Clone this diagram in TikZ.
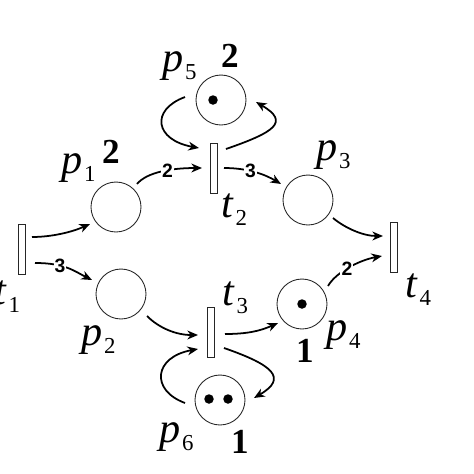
\documentclass[tikz,border=0pt]{standalone}
\usepackage{fontspec}
\setmainfont{Liberation Serif}
\newfontfamily\arcfont{Liberation Sans}
\newfontfamily\numfont{Liberation Serif}
\usetikzlibrary{arrows.meta}
\newcommand\plab[2]{\fontsize{24}{24}\selectfont\textit{#1}\kern1pt\raisebox{-5pt}{\fontsize{13}{13}\selectfont #2}}
\begin{document}
\begin{tikzpicture}[x=0.02cm,y=-0.02cm,
  place/.style={circle,draw=black!85,line width=0.5pt,minimum size=1cm,inner sep=0},
  trans/.style={rectangle,draw=black!85,line width=0.5pt,fill=white,minimum width=0.14cm,minimum height=1cm,inner sep=0},
  arc/.style={line width=1pt,-{Stealth[length=6pt,width=5pt,inset=1.8pt]}},
  weight/.style={font=\arcfont\bfseries\fontsize{11}{11}\selectfont,fill=white,inner sep=0.6pt},
  lab/.style={anchor=base west,inner sep=0},
  bignum/.style={anchor=base,inner sep=0,font=\numfont\bfseries\fontsize{20}{20}\selectfont},
  token/.style={circle,fill=black,inner sep=0,minimum size=0.19cm}
]
\useasboundingbox (0,0) rectangle (474,474);
% places
\node[place] (p1) at (116,207) {};
\node[place] (p2) at (121,294) {};
\node[place] (p3) at (308,200) {};
\node[place] (p4) at (302,304) {};
\node[place] (p5) at (221,100) {};
\node[place] (p6) at (220,400) {};
% tokens
\node[token] (k5) at (213,100) {};
\node[token] (k4) at (302,304) {};
\node[token] (k6a) at (209,399) {};
\node[token] (k6b) at (228,399) {};
% transitions
\node[trans] (t1) at (22,249) {};
\node[trans] (t2) at (213.5,168) {};
\node[trans] (t3) at (210.5,332) {};
\node[trans] (t4) at (393.5,247) {};
% arcs
\draw[arc] ([shift={(10,-12)}]t1.center) .. controls +(20,0) and +(-18,8) .. ([shift={(-26,17)}]p1.center);
\draw[arc] ([shift={(13,14)}]t1.center) .. controls +(30,0) and +(-18,-9) .. ([shift={(-29,-14)}]p2.center) node[weight,pos=0.35] (w1) {3};
\draw[arc] ([shift={(21,-23)}]p1.center) .. controls +(10,-12) and +(-30,0) .. ([shift={(-11.5,0)}]t2.center) node[weight,pos=0.58] (w2) {2};
\draw[arc] ([shift={(10.5,0)}]t2.center) .. controls +(25,0) and +(-15,-9) .. ([shift={(-27,-16)}]p3.center) node[weight,pos=0.4] (w3) {3};
\draw[arc] ([shift={(-36,-3)}]p5.center) .. controls +(-35,13) and +(-44,-8) .. ([shift={(-14.5,-20)}]t2.center);
\draw[arc] ([shift={(12.5,-19)}]t2.center) .. controls +(49,-17) and +(34,20) .. ([shift={(35,2)}]p5.center);
\draw[arc] ([shift={(25,18)}]p3.center) .. controls +(12,10) and +(-20,0) .. ([shift={(-10.5,-11)}]t4.center);
\draw[arc] ([shift={(26,-18)}]p4.center) .. controls +(8,-14) and +(-22,4) .. ([shift={(-11.5,9)}]t4.center) node[weight,pos=0.45] (w4) {2};
\draw[arc] ([shift={(26,22)}]p2.center) .. controls +(12,12) and +(-22,0) .. ([shift={(-12.5,3)}]t3.center);
\draw[arc] ([shift={(14.5,2)}]t3.center) .. controls +(22,0) and +(-18,8) .. ([shift={(-24,19)}]p4.center);
\draw[arc] ([shift={(-35,3)}]p6.center) .. controls +(-35,-13) and +(-44,8) .. ([shift={(-12.5,17)}]t3.center);
\draw[arc] ([shift={(13.5,16)}]t3.center) .. controls +(49,17) and +(34,-20) .. ([shift={(34,-2)}]p6.center);
% labels
\node[lab] (lp1) at (61,173) {\plab{p}{1}};
\node[lab] (lp2) at (81,345) {\plab{p}{2}};
\node[lab] (lp3) at (316,160) {\plab{p}{3}};
\node[lab] (lp4) at (326,340) {\plab{p}{4}};
\node[lab] (lp5) at (162,71) {\plab{p}{5}};
\node[lab] (lp6) at (159,442) {\plab{p}{6}};
\node[lab] (lt1) at (-6,304) {\plab{t}{1}};
\node[lab] (lt2) at (221,217) {\plab{t}{2}};
\node[lab] (lt3) at (222,305) {\plab{t}{3}};
\node[lab] (lt4) at (405,297) {\plab{t}{4}};
\node[bignum] (m1) at (111,163) {2};
\node[bignum] (m5) at (230,67) {2};
\node[bignum] (m4) at (305,362) {1};
\node[bignum] (m6) at (240,453) {1};
\end{tikzpicture}
\end{document}
